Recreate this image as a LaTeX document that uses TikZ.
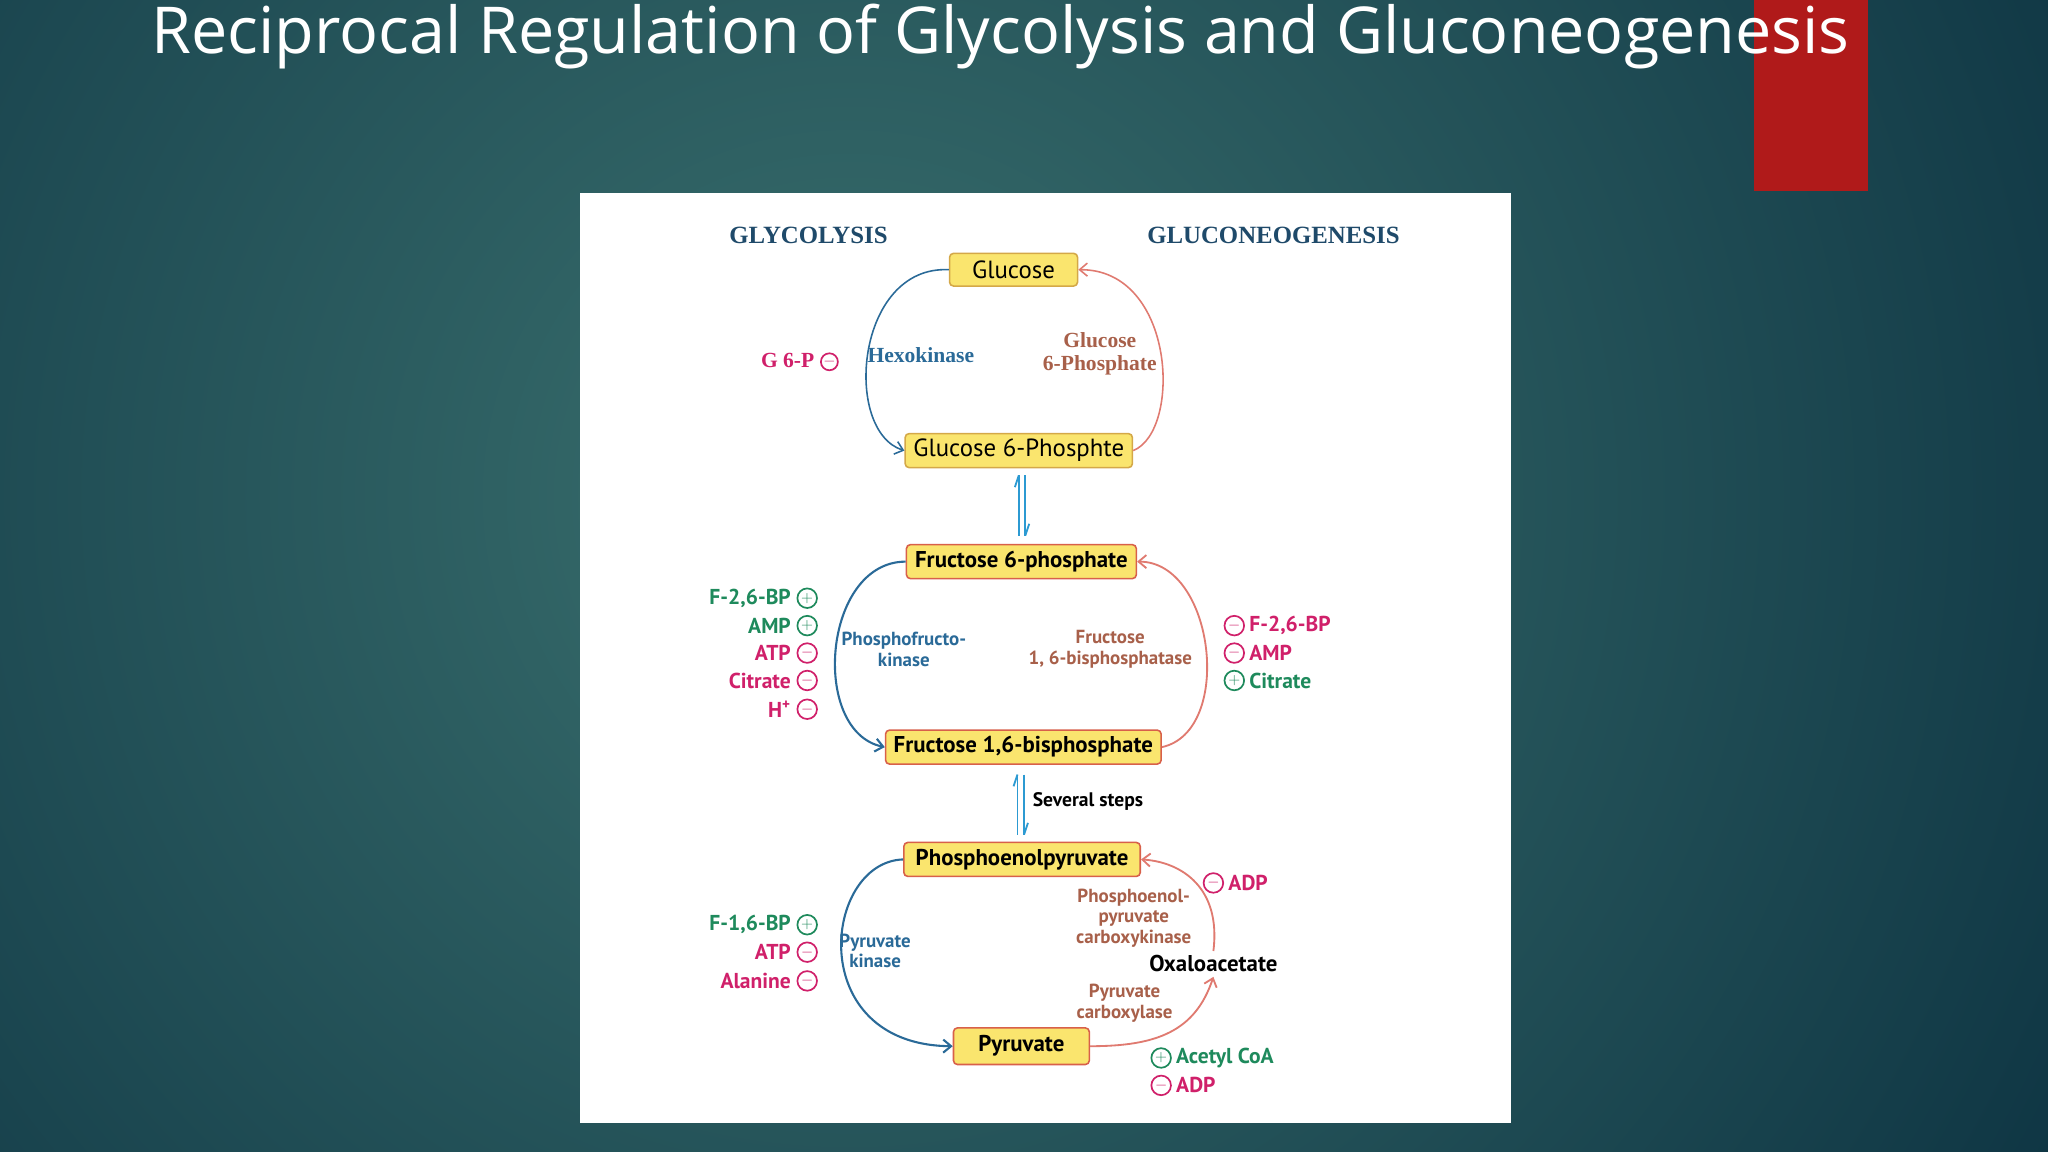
\documentclass[tikz,border=0pt]{standalone}
\usepackage{fontspec}
\setmainfont{PT Sans}
\newfontfamily\titlefont{Open Sans}
\newfontfamily\serifb{Liberation Serif}
\usetikzlibrary{arrows.meta}
\definecolor{bgdark}{HTML}{0F3644}
\definecolor{bglight}{HTML}{3A706E}
\definecolor{redbar}{HTML}{B01A1A}
\definecolor{boxfill}{HTML}{FAE56E}
\definecolor{boxline}{HTML}{D4A848}
\definecolor{boxred}{HTML}{D8604A}
\definecolor{gly}{HTML}{2A6A98}
\definecolor{eqc}{HTML}{2C9AD2}
\definecolor{neo}{HTML}{E07A70}
\definecolor{brn}{HTML}{A8604A}
\definecolor{mag}{HTML}{D0206A}
\definecolor{grn}{HTML}{1E8A5C}
\definecolor{hdr}{HTML}{1F4A6A}
\tikzset{
 met/.style={draw=boxline,fill=boxfill,rounded corners=3pt,line width=1.2pt,inner sep=0pt,font=\fontsize{19}{19}\selectfont},
 metb/.style={met,draw=boxred,font=\fontsize{17.5}{17.5}\selectfont\bfseries},
 glyarr/.style={draw=gly,line width=1.6pt,-{Straight Barb[length=6pt,width=10pt]}},
 neoarr/.style={draw=neo,line width=1.4pt,-{Straight Barb[length=6pt,width=10pt]}},
 enz/.style={font=\fontsize{14.5}{16}\selectfont\bfseries,align=center},
 senz/.style={font=\fontsize{16.5}{18}\serifb\bfseries,align=center},
 reg/.style={font=\fontsize{16.5}{16.5}\selectfont\bfseries},
 sgn/.style={circle,draw,line width=1.3pt,inner sep=0pt,minimum size=15pt,font=\fontsize{13}{13}\selectfont\bfseries},
 eqarr/.style={draw=eqc,line width=1.4pt},
}
\begin{document}
\begin{tikzpicture}[x=1pt,y=-1pt]
\useasboundingbox (0,0) rectangle (1568,882);
\begin{scope}
\clip (0,0) rectangle (1568,882);
\fill[bgdark] (0,0) rectangle (1568,882);
\shade[inner color=bglight,outer color=bgdark] (650,380) circle (1050);
\end{scope}
\fill[redbar] (1343,0) rectangle (1430,146);
\node[text=white,font=\fontsize{49.5}{49.5}\titlefont] (title) at (766,28) {Reciprocal Regulation of Glycolysis and Gluconeogenesis};
\fill[white] (444,148) rectangle (1157,860);

\node[text=hdr,font=\fontsize{19}{19}\serifb\bfseries] (h1) at (619,180) {GLYCOLYSIS};
\node[text=hdr,font=\fontsize{19}{19}\serifb\bfseries] (h2) at (975,180) {GLUCONEOGENESIS};

\node[met,minimum width=98pt,minimum height=25pt] (glu) at (776,206.5) {Glucose};
\node[met,minimum width=174pt,minimum height=26pt] (g6p) at (780,345) {Glucose 6-Phosphte};
\node[metb,minimum width=176pt,minimum height=26pt] (f6p) at (782,430) {Fructose 6-phosphate};
\node[metb,minimum width=211pt,minimum height=26pt] (fbp) at (783.5,572) {Fructose 1,6-bisphosphate};
\node[metb,minimum width=181pt,minimum height=26pt] (pep) at (782.5,658) {Phosphoenolpyruvate};
\node[metb,minimum width=104pt,minimum height=28pt] (pyr) at (782,801) {Pyruvate};
\node[font=\fontsize{17.5}{17.5}\selectfont\bfseries] (oaa) at (929,738) {Oxaloacetate};

% top loop
\draw[glyarr,line width=1.2pt] (glu.west) .. controls (655,203) and (645,330) .. (g6p.west);
\draw[neoarr,line width=1.2pt] (g6p.east) .. controls (905,330) and (900,206) .. (glu.east);
% equilibrium arrows
\draw[eqarr] (780,364) -- (780,410); \draw[eqarr] (780,364) -- (777,373);
\draw[eqarr] (785,364) -- (785,410); \draw[eqarr] (785,410) -- (788,401);
\draw[eqarr] (779,593) -- (779,639); \draw[eqarr] (779,593) -- (776,602);
\draw[eqarr] (784,593) -- (784,639); \draw[eqarr] (784,639) -- (787,630);
% middle loop
\draw[glyarr] (f6p.west) .. controls (630,430) and (620,560) .. (fbp.west);
\draw[neoarr] (fbp.east) .. controls (945,560) and (930,430) .. (f6p.east);
% bottom loop
\draw[glyarr] (pep.west) .. controls (630,660) and (615,800) .. (pyr.west);
\draw[neoarr] (pyr.east) .. controls (885,801) and (915,790) .. (oaa.south);
\draw[neoarr] (oaa.north) .. controls (935,680) and (905,660) .. (pep.east);

% enzyme labels
\node[senz,text=gly] (hk) at (705,272) {Hexokinase};
\node[senz,text=brn] (g6pase) at (842,271) {Glucose\\6-Phosphate};
\node[enz,text=gly] (pfk) at (692,497) {Phosphofructo-\\kinase};
\node[enz,text=brn] (fbpase) at (850,497) {Fructose\\1, 6-bisphosphatase};
\node[enz,text=black,font=\fontsize{15}{15}\selectfont\bfseries] (sev) at (833,614) {Several steps};
\node[enz,text=brn] (pepck) at (868,703) {Phosphoenol-\\pyruvate\\carboxykinase};
\node[enz,text=gly] (pk) at (670,728) {Pyruvate\\kinase};
\node[enz,text=brn] (pc) at (861,768) {Pyruvate\\carboxylase};

% regulators
\node[senz,text=mag,anchor=east] (r1) at (627,276) {G 6-P};
\node[sgn,draw=mag,text=mag,minimum size=13pt] (s1) at (635,277) {$-$};

\node[reg,text=grn,anchor=east] (a1) at (609,458) {F-2,6-BP};
\node[sgn,draw=grn,text=grn] (b1) at (618,458) {$+$};
\node[reg,text=grn,anchor=east] (a2) at (609,479) {AMP};
\node[sgn,draw=grn,text=grn] (b2) at (618,479) {$+$};
\node[reg,text=mag,anchor=east] (a3) at (609,500) {ATP};
\node[sgn,draw=mag,text=mag] (b3) at (618,500) {$-$};
\node[reg,text=mag,anchor=east] (a4) at (609,521) {Citrate};
\node[sgn,draw=mag,text=mag] (b4) at (618,521) {$-$};
\node[reg,text=mag,anchor=east] (a5) at (609,543) {H\textsuperscript{+}};
\node[sgn,draw=mag,text=mag] (b5) at (618,543) {$-$};

\node[sgn,draw=mag,text=mag] (c1) at (945,479) {$-$};
\node[reg,text=mag,anchor=west] (d1) at (953,479) {F-2,6-BP};
\node[sgn,draw=mag,text=mag] (c2) at (945,500) {$-$};
\node[reg,text=mag,anchor=west] (d2) at (953,500) {AMP};
\node[sgn,draw=grn,text=grn] (c3) at (945,521) {$+$};
\node[reg,text=grn,anchor=west] (d3) at (953,521) {Citrate};

\node[sgn,draw=mag,text=mag] (e1) at (929,676) {$-$};
\node[reg,text=mag,anchor=west] (f1) at (937,676) {ADP};

\node[reg,text=grn,anchor=east] (g1) at (609,708) {F-1,6-BP};
\node[sgn,draw=grn,text=grn] (h1s) at (618,708) {$+$};
\node[reg,text=mag,anchor=east] (g2) at (609,729) {ATP};
\node[sgn,draw=mag,text=mag] (h2s) at (618,729) {$-$};
\node[reg,text=mag,anchor=east] (g3) at (609,751) {Alanine};
\node[sgn,draw=mag,text=mag] (h3s) at (618,751) {$-$};

\node[sgn,draw=grn,text=grn] (k1) at (889,810) {$+$};
\node[reg,text=grn,anchor=west] (l1) at (897,810) {Acetyl CoA};
\node[sgn,draw=mag,text=mag] (k2) at (889,831) {$-$};
\node[reg,text=mag,anchor=west] (l2) at (897,831) {ADP};
\end{tikzpicture}
\end{document}
